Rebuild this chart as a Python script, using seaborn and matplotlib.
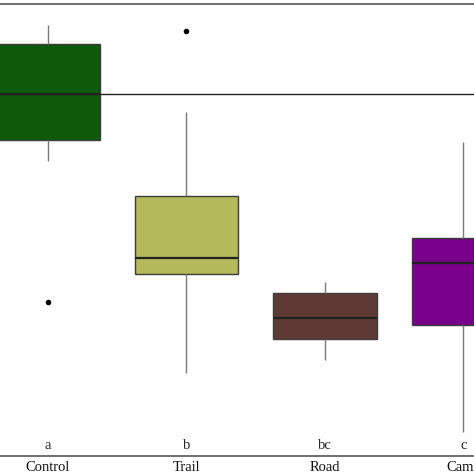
import pandas as pd
import matplotlib
matplotlib.use("Agg")
import matplotlib.pyplot as plt
import seaborn as sns

sites = ["Control", "Trail", "Road", "Camp"]
control = [34.1, 65.3, 69.9, 75.0, 80.1, 86.0, 91.2, 93.5, 95.4]
trail = [18.4, 30.0, 40.3, 42.0, 43.8, 50.0, 57.5, 76.1, 94.0]
road = [21.2, 23.5, 25.9, 28.0, 30.5, 33.0, 36.1, 37.5, 38.5]
camp = [5.3, 18.0, 29.0, 36.0, 42.7, 45.0, 48.2, 60.0, 69.5]
letters = ["a", "b", "bc", "c"]
ref_level = 80.1
colors = ["#0d5a0a", "#b4b95a", "#5f3a35", "#79008b"]

df = pd.DataFrame({
    "site": sum([[s] * 9 for s in sites], []),
    "value": control + trail + road + camp,
})

sns.set_style("white")
plt.rcParams["font.family"] = ["Liberation Serif", "DejaVu Serif"]

fig = plt.figure(figsize=(4.74, 4.74), dpi=100)
ax = fig.add_axes([0, 0.038, 1, 0.9536])

sns.boxplot(data=df, x="site", y="value", hue="site", order=sites,
            palette=colors, width=0.75, saturation=1, ax=ax,
            linecolor="#3c3c3c", linewidth=1,
            whiskerprops=dict(color="#7a7a7a"),
            capprops=dict(linewidth=0),
            medianprops=dict(color="#222222", linewidth=1.6),
            flierprops=dict(marker="o", markersize=3, markerfacecolor="black",
                            markeredgecolor="black"))

ax.axhline(ref_level, color="#222222", lw=1)

for i, l in enumerate(letters):
    ax.text(i, 2.4, l, ha="center", va="center", fontsize=10.5)

ax.set_xlim(-0.3466, 3.076)
ax.set_ylim(0, 100)
ax.set_xlabel("")
ax.set_ylabel("")
ax.set_yticks([])
ax.tick_params(axis="x", labelsize=10.5, length=2, pad=1.5, colors="#111111")
for side in ["left", "right"]:
    ax.spines[side].set_visible(False)
for side in ["top", "bottom"]:
    ax.spines[side].set_color("#555555")
    ax.spines[side].set_linewidth(1.2)

fig.savefig("out.png", dpi=100)
